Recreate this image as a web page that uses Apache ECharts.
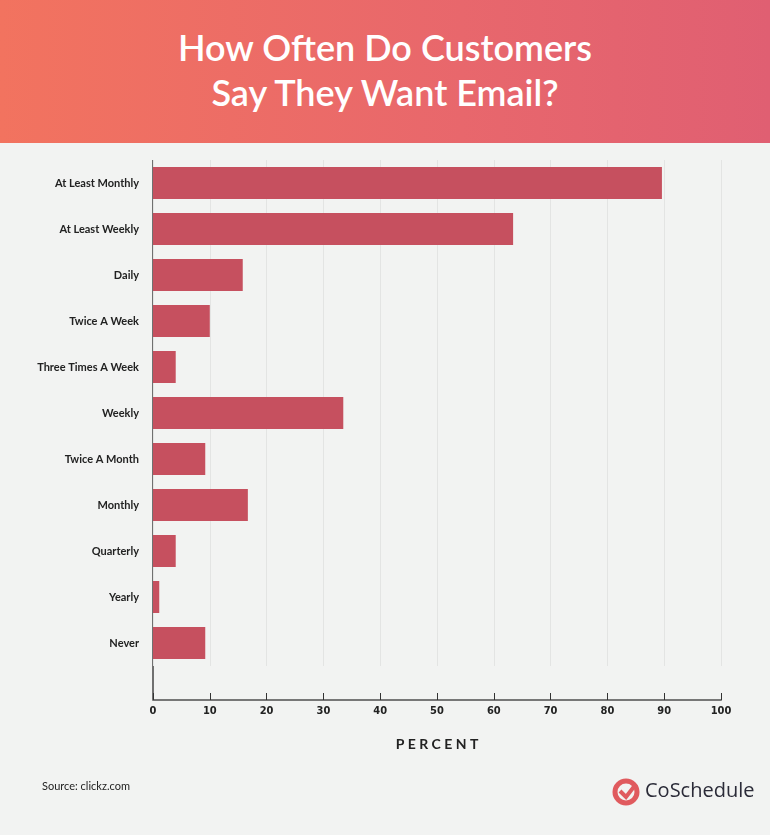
<!DOCTYPE html>
<html>
<head>
<meta charset="utf-8">
<script src="https://cdn.jsdelivr.net/npm/echarts@6/dist/echarts.min.js"></script>
<style>
  html, body { margin: 0; padding: 0; background: #f2f3f2; }
  #header {
    position: absolute; left: 0; top: 0; width: 770px; height: 143px;
    background: linear-gradient(90deg, #f2735f 0%, #e8676c 60%, #e05f72 100%);
    color: #fff; font-family: Lato, "Open Sans", sans-serif; font-weight: 600;
    font-size: 36px; line-height: 45px; text-align: center;
    box-sizing: border-box; padding-top: 25px;
  }
  #chart { position: absolute; left: 0; top: 0; width: 770px; height: 835px; }
</style>
</head>
<body>
<div id="chart"></div>
<div id="header">How Often Do Customers<br>Say They Want Email?</div>
<script>
const categories = ['At Least Monthly', 'At Least Weekly', 'Daily', 'Twice A Week', 'Three Times A Week',
  'Weekly', 'Twice A Month', 'Monthly', 'Quarterly', 'Yearly', 'Never'];
const percents = [89.6, 63.4, 15.8, 10.0, 4.0, 33.5, 9.2, 16.7, 4.0, 1.1, 9.2];

const chart = echarts.init(document.getElementById('chart'));
chart.setOption({
  backgroundColor: '#f2f3f2',
  grid: { left: 153, right: 49, top: 160, bottom: 169 },
  xAxis: {
    type: 'value', min: 0, max: 100, interval: 10, offset: 34,
    name: 'P E R C E N T', nameLocation: 'center', nameGap: 37,
    nameTextStyle: { fontFamily: 'Lato', fontWeight: 'bold', fontSize: 14, color: '#222' },
    axisLine: { show: true, lineStyle: { color: '#777', width: 2 } },
    axisTick: { show: true, length: 7, inside: true, lineStyle: { color: '#333' } },
    axisLabel: { fontFamily: '"Liberation Sans Narrow", "DejaVu Sans Condensed"', fontWeight: 'bold', fontSize: 11, color: '#222', margin: 6 },
    splitLine: { show: true, lineStyle: { color: '#e3e4e3', width: 1 } }
  },
  yAxis: {
    type: 'category', data: categories, inverse: true,
    axisLine: { show: false }, axisTick: { show: false },
    axisLabel: { fontFamily: 'Lato', fontWeight: 'bold', fontSize: 11, color: '#222', margin: 14 }
  },
  graphic: [
    { type: 'line', shape: { x1: 153, y1: 160, x2: 153, y2: 700 }, style: { stroke: '#444', lineWidth: 1.5 } },
    { type: 'text', left: 42, top: 781, style: { text: 'Source: clickz.com', font: '11px Lato', fill: '#222' } },
    { type: 'circle', shape: { cx: 626, cy: 792, r: 11 }, style: { fill: 'none', stroke: '#e05a5e', lineWidth: 5 } },
    { type: 'polyline', shape: { points: [[620, 791], [626, 797], [636, 784]] }, style: { fill: 'none', stroke: '#e05a5e', lineWidth: 4 } },
    { type: 'text', left: 645, top: 781, style: { text: 'CoSchedule', font: '500 20px "Open Sans"', fill: '#2b2b38' } }
  ],
  series: [{
    type: 'bar', data: percents, barWidth: 32,
    itemStyle: { color: '#c6505f' }
  }]
});
</script>
</body>
</html>
